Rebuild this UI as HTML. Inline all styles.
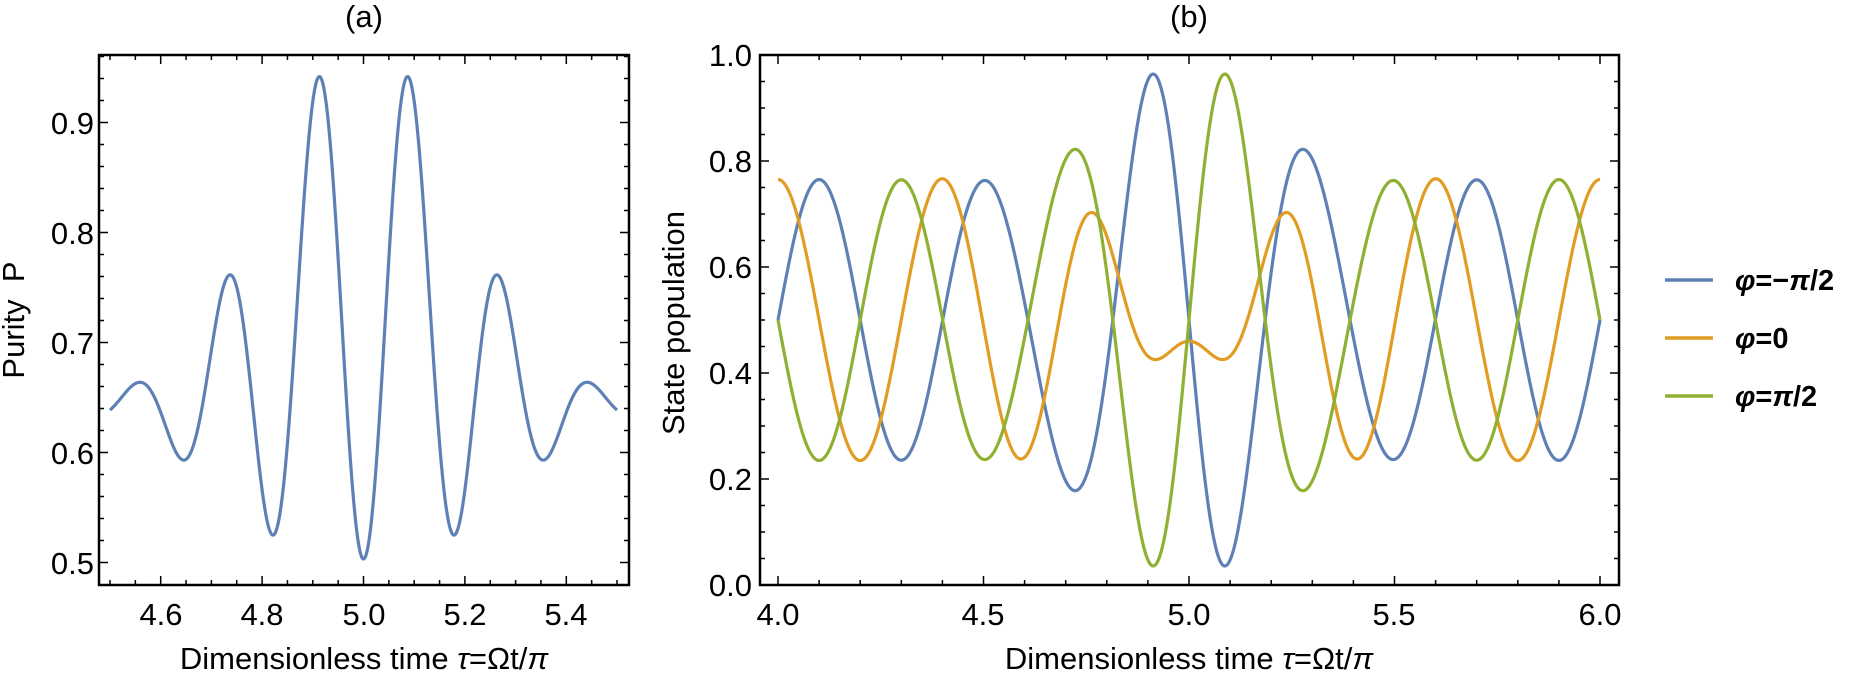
<!DOCTYPE html>
<html><head><meta charset="utf-8">
<style>
html,body{margin:0;padding:0;background:#fff;}
svg{display:block;}
text{font-family:"Liberation Sans",Arial,sans-serif;fill:#000;}
</style></head>
<body>
<svg id="s" width="1850" height="675" viewBox="0 0 1850 675" xmlns="http://www.w3.org/2000/svg">
<g id="ticks" stroke="#000" stroke-width="1.5"></g>
<path id="pa" fill="none" stroke="#5E81B5" stroke-width="3.2" stroke-linejoin="round"/>
<path id="pb1" fill="none" stroke="#5E81B5" stroke-width="3.2" stroke-linejoin="round"/>
<path id="pb2" fill="none" stroke="#E19C24" stroke-width="3.2" stroke-linejoin="round"/>
<path id="pb3" fill="none" stroke="#8FB032" stroke-width="3.2" stroke-linejoin="round"/>
<rect x="99" y="55" width="530" height="530" fill="none" stroke="#000" stroke-width="2.5"/>
<rect x="760" y="55" width="859" height="530" fill="none" stroke="#000" stroke-width="2.5"/>
<g font-size="31" text-anchor="end">
<text x="94" y="134">0.9</text>
<text x="94" y="244">0.8</text>
<text x="94" y="354">0.7</text>
<text x="94" y="464">0.6</text>
<text x="94" y="574">0.5</text>
<text x="752" y="66">1.0</text>
<text x="752" y="172">0.8</text>
<text x="752" y="278">0.6</text>
<text x="752" y="384">0.4</text>
<text x="752" y="490">0.2</text>
<text x="752" y="596">0.0</text>
</g>
<g font-size="31" text-anchor="middle">
<text x="161" y="625">4.6</text>
<text x="262" y="625">4.8</text>
<text x="364" y="625">5.0</text>
<text x="465" y="625">5.2</text>
<text x="566" y="625">5.4</text>
<text x="778" y="625">4.0</text>
<text x="983" y="625">4.5</text>
<text x="1189" y="625">5.0</text>
<text x="1394" y="625">5.5</text>
<text x="1600" y="625">6.0</text>
<text x="364" y="27">(a)</text>
<text x="1189" y="27">(b)</text>
<text x="364" y="669">Dimensionless time <tspan font-style="italic">τ</tspan>=Ωt/<tspan font-style="italic">π</tspan></text>
<text x="1189" y="669">Dimensionless time <tspan font-style="italic">τ</tspan>=Ωt/<tspan font-style="italic">π</tspan></text>
<text transform="translate(24,320) rotate(-90)" xml:space="preserve">Purity  P</text>
<text transform="translate(684,323) rotate(-90)">State population</text>
</g>
<g stroke-width="3.5">
<line x1="1665" y1="280" x2="1713" y2="280" stroke="#5E81B5"/>
<line x1="1665" y1="338" x2="1713" y2="338" stroke="#E19C24"/>
<line x1="1665" y1="396" x2="1713" y2="396" stroke="#8FB032"/>
</g>
<g font-size="29" font-weight="bold">
<text x="1735" y="290"><tspan font-style="italic">φ</tspan>=−<tspan font-style="italic">π</tspan>/2</text>
<text x="1735" y="348"><tspan font-style="italic">φ</tspan>=0</text>
<text x="1735" y="406"><tspan font-style="italic">φ</tspan>=<tspan font-style="italic">π</tspan>/2</text>
</g>
</svg>
<script>
(function(){
function model(t){
  var a=0.53, ph=-5*Math.PI*t;
  var ux=-a*Math.sin(ph), uy=a*Math.cos(ph);
  var argu=Math.atan2(uy,ux);
  var d=t-5, B=0.45*Math.exp(-d*d/0.0840);
  var psi=Math.PI+2*Math.PI*d/0.18;
  var th=psi+argu;
  return [ux+B*Math.cos(th), uy+B*Math.sin(th)];
}
var N=1200,i,t,z,s1="",s2="",s3="",sa="";
for(i=0;i<=N;i++){
  t=4+2*i/N; z=model(t);
  var x=778+(t-4)*411;
  var b=0.5+0.5*z[0], o=0.5+0.5*z[1], g=1-b;
  s1+=(i?"L":"M")+x.toFixed(2)+","+(585-b*530).toFixed(2);
  s2+=(i?"L":"M")+x.toFixed(2)+","+(585-o*530).toFixed(2);
  s3+=(i?"L":"M")+x.toFixed(2)+","+(585-g*530).toFixed(2);
}
for(i=0;i<=N;i++){
  t=4.5+i/N; z=model(t);
  var P=(1+z[0]*z[0]+z[1]*z[1])/2;
  sa+=(i?"L":"M")+(110+(t-4.5)*507).toFixed(2)+","+(562.5-(P-0.5)*1100).toFixed(2);
}
document.getElementById("pb1").setAttribute("d",s1);
document.getElementById("pb2").setAttribute("d",s2);
document.getElementById("pb3").setAttribute("d",s3);
document.getElementById("pa").setAttribute("d",sa);
var tk="",v,k,L;
for(k=0;k<=20;k++){v=4.5+k*0.05;var x=110+(v-4.5)*507;if(x<100||x>628)continue;
 L=(k%4==2)?9:5;tk+="M"+x+",585v-"+L+"M"+x+",55v"+L;}
for(k=0;k<=24;k++){v=0.48+k*0.02;var y=562.5-(v-0.5)*1100;if(y<56||y>584)continue;
 L=(k%5==1)?9:5;tk+="M99,"+y+"h"+L+"M629,"+y+"h-"+L;}
for(k=0;k<=20;k++){v=4+k*0.1;var x2=778+(v-4)*411;
 L=(k%5==0)?9:5;tk+="M"+x2+",585v-"+L+"M"+x2+",55v"+L;}
for(k=0;k<=20;k++){v=k*0.05;var y2=585-v*530;
 L=(k%4==0)?9:5;tk+="M760,"+y2+"h"+L+"M1619,"+y2+"h-"+L;}
var p=document.createElementNS("http://www.w3.org/2000/svg","path");
p.setAttribute("d",tk);p.setAttribute("fill","none");
document.getElementById("ticks").appendChild(p);
})();
</script>
</body></html>
